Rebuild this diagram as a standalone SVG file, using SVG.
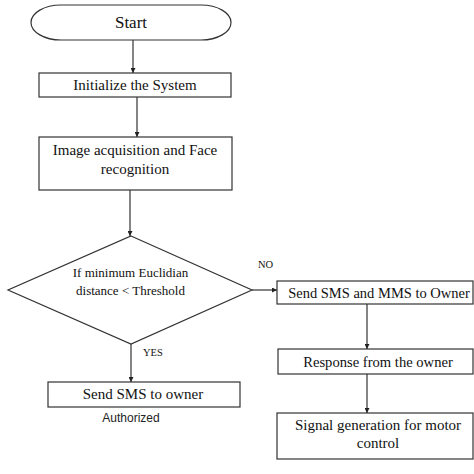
<svg xmlns="http://www.w3.org/2000/svg" width="474" height="474" viewBox="0 0 474 474">
<style>
.box{fill:#fff;stroke:#333;stroke-width:1.2}
.t{font-family:"Liberation Serif","Times New Roman",serif;font-size:15px;fill:#111;text-anchor:middle}
.s{font-family:"Liberation Serif","Times New Roman",serif;font-size:13px;fill:#111;text-anchor:middle}
.l{font-family:"Liberation Serif","Times New Roman",serif;font-size:10.5px;fill:#111}
.a{font-family:"Liberation Sans",Arial,sans-serif;font-size:12px;fill:#222;text-anchor:middle}
.c{fill:none;stroke:#333;stroke-width:1.2;marker-end:url(#arr)}
</style>
<defs>
<marker id="arr" viewBox="0 0 10 10" refX="10" refY="5" markerWidth="5" markerHeight="5" orient="auto" markerUnits="userSpaceOnUse">
<path d="M0,0 L10,5 L0,10 z" fill="#222"/>
</marker>
</defs>
<rect width="474" height="474" fill="#fff"/>
<g id="connectors">
<line class="c" x1="133" y1="40" x2="133" y2="73"/>
<line class="c" x1="137" y1="97" x2="137" y2="137"/>
<line class="c" x1="130" y1="190" x2="130" y2="236"/>
<line class="c" x1="252" y1="290" x2="277" y2="290"/>
<line class="c" x1="131" y1="344" x2="131" y2="382"/>
<line class="c" x1="367" y1="304" x2="367" y2="349"/>
<line class="c" x1="367" y1="374" x2="367" y2="413"/>
<text class="l" x="258" y="268">NO</text>
<text class="l" x="143" y="356">YES</text>
</g>
<g id="start">
<rect class="box" x="31" y="5" width="200" height="35" rx="30" ry="17.5"/>
<text class="t" x="131" y="28" style="font-size:17px">Start</text>
</g>
<g id="init">
<rect class="box" x="39" y="73" width="192" height="24"/>
<text class="t" x="135" y="90">Initialize the System</text>
</g>
<g id="image">
<rect class="box" x="39" y="137" width="193" height="53"/>
<text class="t" x="135" y="155">Image acquisition and Face</text>
<text class="t" x="135" y="174">recognition</text>
</g>
<g id="decision">
<polygon class="box" points="131,236 252,290 131,344 8,290"/>
<text class="s" x="130.5" y="277">If minimum Euclidian</text>
<text class="s" x="130.5" y="295">distance &lt; Threshold</text>
</g>
<g id="sendsms">
<rect class="box" x="48" y="382" width="192" height="25"/>
<text class="t" x="143" y="399">Send SMS to owner</text>
<text class="a" x="131" y="422">Authorized</text>
</g>
<g id="sendmms">
<rect class="box" x="277" y="281" width="196" height="23"/>
<text class="t" x="379" y="298" style="font-size:14.5px">Send SMS and MMS to Owner</text>
</g>
<g id="response">
<rect class="box" x="278" y="349" width="195" height="25"/>
<text class="t" x="378" y="367" style="font-size:14.6px">Response from the owner</text>
</g>
<g id="signal">
<rect class="box" x="277" y="413" width="196" height="46"/>
<text class="t" x="378" y="430">Signal generation for motor</text>
<text class="t" x="378" y="448">control</text>
</g>
</svg>
